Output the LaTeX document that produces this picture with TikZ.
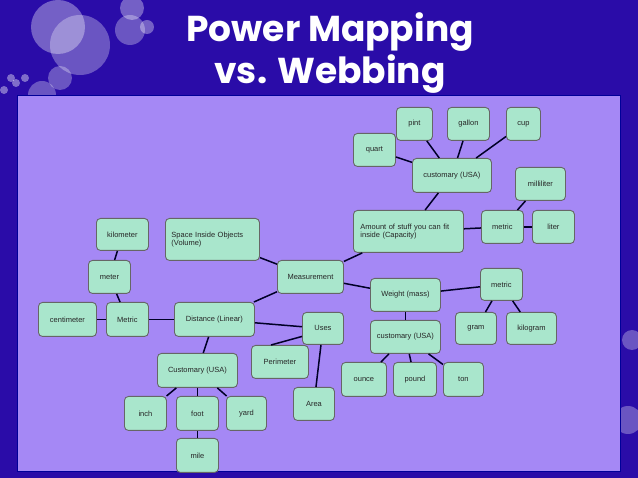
\documentclass[tikz,border=0pt]{standalone}
\usepackage{fontspec}
\setmainfont{Liberation Sans}
\newfontfamily\titlefont{Poppins}
\definecolor{bg}{HTML}{2A0CA8}
\definecolor{panel}{HTML}{A588F5}
\definecolor{boxf}{HTML}{A9E6CC}
\begin{document}
\begin{tikzpicture}[x=1pt,y=-1pt,
  box/.style={draw=black!60,line width=0.9pt,rounded corners=4pt,fill=boxf,
    anchor=north west,inner sep=0pt,font=\fontsize{7.5}{8.5}\selectfont,text=black!85},
  lnk/.style={line width=1.5pt,draw=black!85!blue}]
\fill[bg] (0,0) rectangle (638,478);
\useasboundingbox (0,0) rectangle (638,478);
\fill[white,opacity=0.35] (58,27) circle (27);
\fill[white,opacity=0.3] (80,45) circle (30);
\fill[white,opacity=0.35] (132,8) circle (12);
\fill[white,opacity=0.3] (130,30) circle (15);
\fill[white,opacity=0.35] (147,27) circle (7);
\fill[white,opacity=0.3] (60,78) circle (12);
\fill[white,opacity=0.3] (42,95) circle (14);
\fill[white,opacity=0.4] (11,78) circle (4);
\fill[white,opacity=0.4] (16,83) circle (4);
\fill[white,opacity=0.4] (25,78) circle (4);
\fill[white,opacity=0.4] (4,90) circle (4);
\fill[white,opacity=0.3] (632,340) circle (10);
\fill[white,opacity=0.3] (628,420) circle (14);
\fill[panel,draw=blue!60!black,line width=1pt] (17,96) rectangle (620,472);
\node[white,font=\titlefont\bfseries\fontsize{36}{38}\selectfont] (t1) at (330,32) {Power Mapping};
\node[white,font=\titlefont\bfseries\fontsize{36}{38}\selectfont] (t2) at (330,74) {vs. Webbing};
\tikzset{B/.style n args={4}{box,minimum width={#3-#1},minimum height={#4-#2}}}
\newcommand\bx[6]{\node[B={#2}{#3}{#4}{#5}] (#1) at (#2,#3) {#6};}
\bx{pint}{396}{107}{432}{140}{pint}
\bx{gallon}{447}{107}{489}{140}{gallon}
\bx{cup}{506}{107}{540}{140}{cup}
\bx{quart}{353}{133}{395}{166}{quart}
\bx{custA}{412}{158}{491}{192}{customary (USA)}
\bx{ml}{515}{167}{565}{200}{milliliter}
\node[B={353}{210}{463}{252},align=left,text width=96pt] (amt) at (353,210) {Amount of stuff you can fit\\inside (Capacity)};
\bx{metA}{481}{210}{523}{243}{metric}
\bx{liter}{532}{210}{574}{243}{liter}
\bx{km}{96}{218}{148}{250}{kilometer}
\node[B={165}{218}{259}{260},align=left,text width=82pt] (space) at (165,218) {Space Inside Objects\\(Volume)};
\bx{meas}{277}{260}{343}{293}{Measurement}
\bx{meter}{88}{260}{130}{293}{meter}
\bx{metB}{480}{268}{522}{300}{metric}
\bx{weight}{370}{278}{440}{311}{Weight (mass)}
\bx{cm}{38}{302}{96}{336}{centimeter}
\bx{Met}{106}{302}{148}{336}{Metric}
\bx{dist}{174}{302}{254}{336}{Distance (Linear)}
\bx{uses}{302}{312}{343}{344}{Uses}
\bx{gram}{455}{312}{496}{344}{gram}
\bx{kg}{506}{312}{556}{344}{kilogram}
\bx{custB}{370}{320}{440}{353}{customary (USA)}
\bx{perim}{251}{345}{308}{378}{Perimeter}
\bx{custC}{157}{353}{237}{387}{Customary (USA)}
\bx{ounce}{341}{362}{386}{396}{ounce}
\bx{pound}{393}{362}{436}{396}{pound}
\bx{ton}{443}{362}{483}{396}{ton}
\bx{area}{293}{387}{334}{420}{Area}
\bx{inch}{124}{396}{166}{430}{inch}
\bx{foot}{176}{396}{218}{430}{foot}
\bx{yard}{226}{396}{266}{430}{yard}
\bx{mile}{176}{438}{218}{472}{mile}
\foreach \a/\b in {pint/custA,gallon/custA,cup/custA,quart/custA,custA/amt,amt/metA,metA/ml,metA/liter,
  amt/meas,space/meas,meas/weight,meas/dist,dist/Met,Met/cm,Met/meter,meter/km,dist/uses,uses/area,
  dist/custC,custC/inch,custC/foot,custC/yard,foot/mile,weight/metB,metB/gram,metB/kg,weight/custB,
  custB/ounce,custB/pound,custB/ton}
  \draw[lnk] (\a) -- (\b);
\draw[lnk] (uses.west) ++(0,8) -- ([xshift=20pt]perim.north west);
\end{tikzpicture}
\end{document}
